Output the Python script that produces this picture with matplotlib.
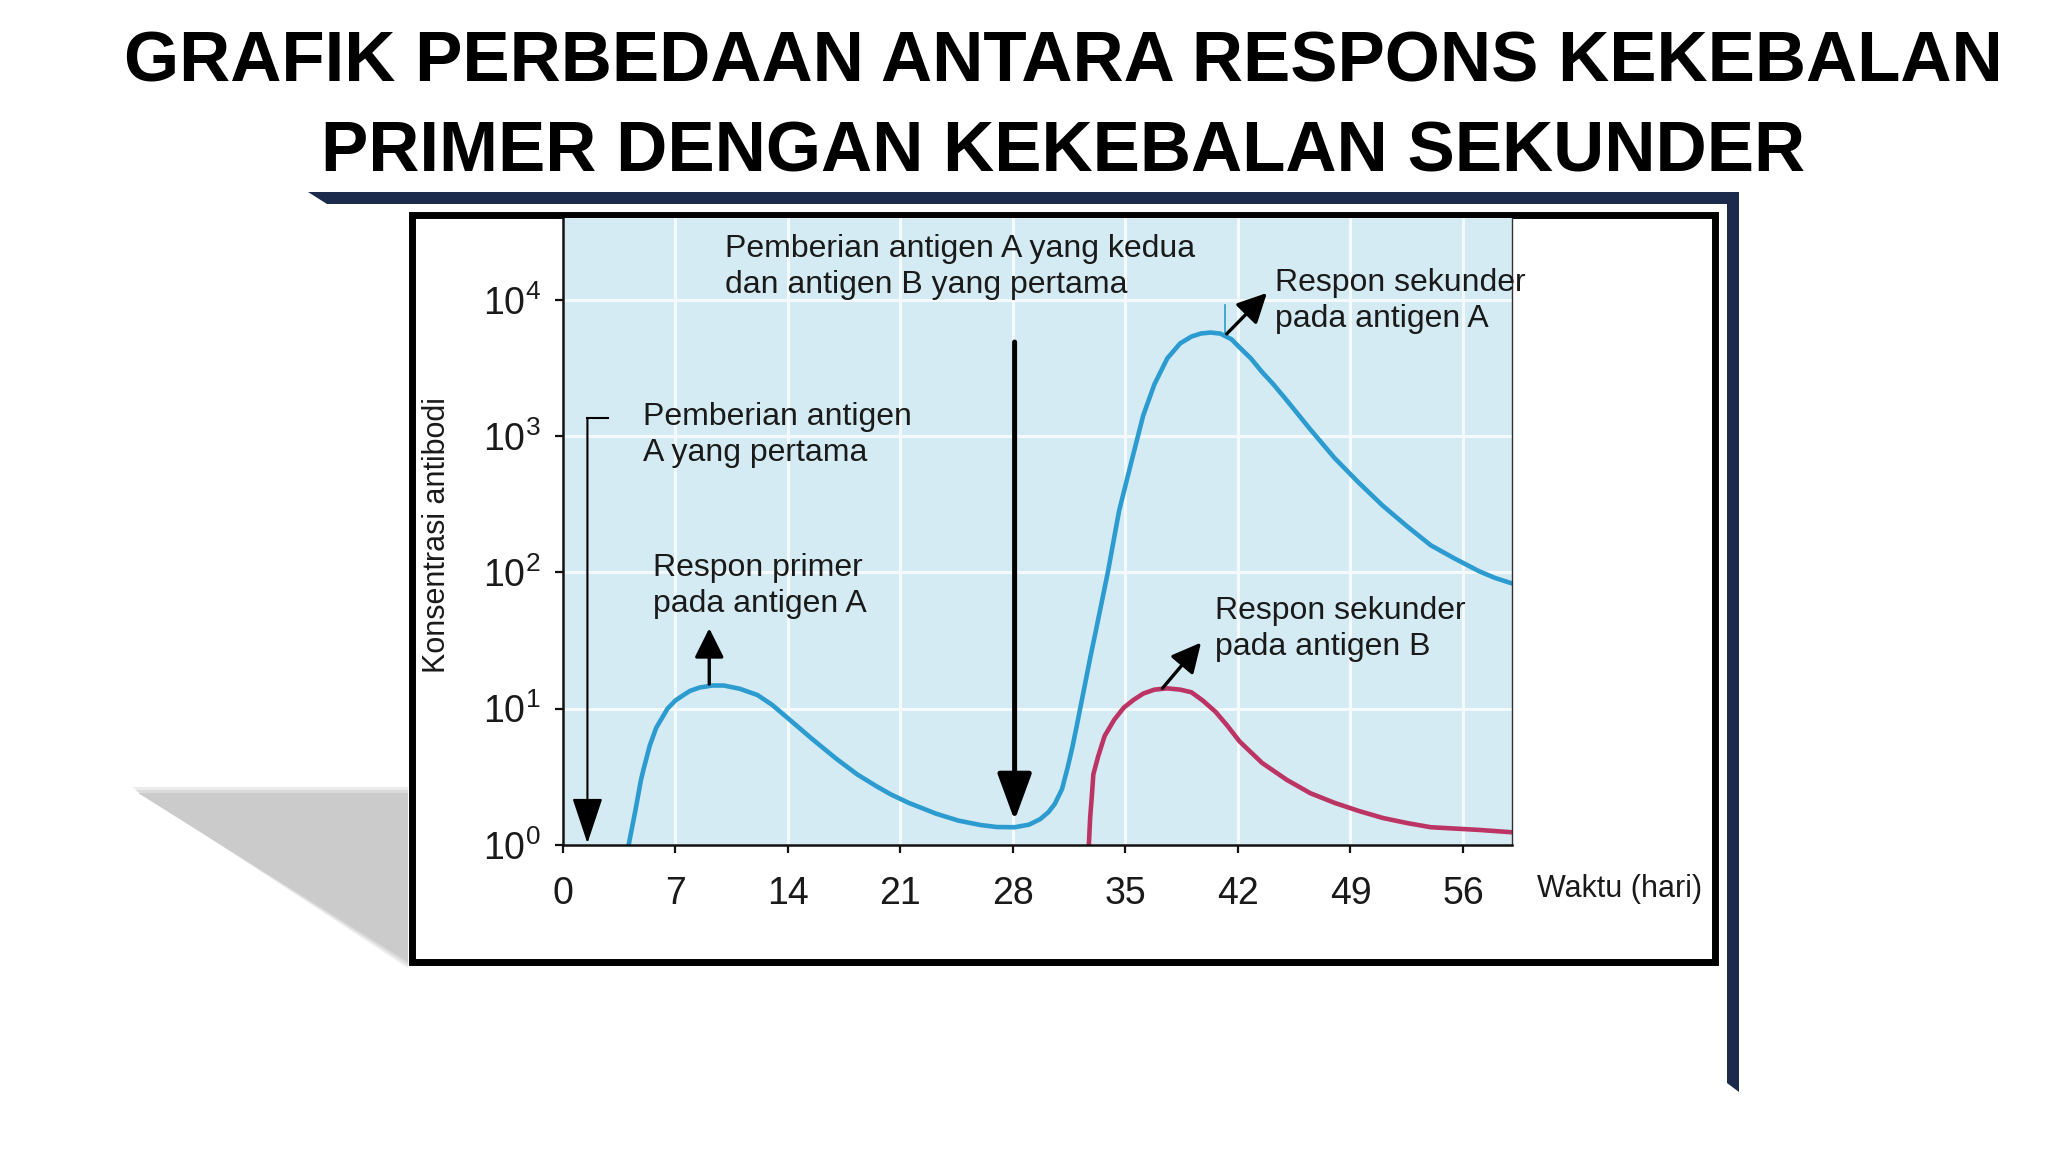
import matplotlib
matplotlib.use("Agg")
import matplotlib.pyplot as plt
from matplotlib.patches import Polygon, Rectangle
from matplotlib.ticker import FixedLocator, NullLocator

W, H = 2048, 1152

# antibody concentration (days, concentration)
days_a = [4.0, 4.5, 4.85, 5.0, 5.4, 5.8, 6.2, 6.5, 7.0, 7.5, 7.9, 8.5, 9.3, 10.0,
          11.0, 12.1, 13.0, 14.0, 14.9, 15.5, 17.0, 18.3, 19.5, 20.4, 21.5, 23.2,
          24.6, 26.0, 27.0, 28.1, 29.0, 29.7, 30.2, 30.6, 31.05, 31.4, 31.7, 31.96,
          32.2, 32.5, 32.8, 33.15, 33.9, 34.6, 35.3, 36.1, 36.8, 37.6, 38.4, 39.1,
          39.7, 40.3, 40.9, 41.6, 42.1, 42.8, 43.5, 44.2, 45.05, 46.5, 48.0, 49.5,
          51.0, 52.5, 54.0, 55.5, 57.0, 58.0, 59.05]
conc_a = [0.89, 1.78, 3.0, 3.55, 5.37, 7.24, 8.71, 10.0, 11.5, 12.6, 13.5, 14.3, 14.8, 14.8,
          14.0, 12.6, 10.7, 8.5, 6.9, 6.0, 4.3, 3.3, 2.7, 2.35, 2.04, 1.7,
          1.51, 1.40, 1.355, 1.35, 1.41, 1.55, 1.74, 2.0, 2.57, 3.7, 5.25, 7.4,
          10.3, 15.5, 23.5, 37, 100, 282, 603, 1413, 2400, 3715, 4786, 5370,
          5660, 5750, 5650, 5130, 4470, 3715, 2950, 2400, 1820, 1120, 692, 457,
          309, 219, 158, 126, 102, 91, 83]

days_b = [32.7, 32.8, 32.9, 33.0, 33.3, 33.7, 34.3, 34.9, 35.5, 36.1, 36.8, 37.6,
          38.4, 39.1, 39.8, 40.6, 41.3, 42.1, 43.5, 45.05, 46.5, 48.0, 49.5, 51.0,
          52.5, 54.0, 55.5, 57.0, 59.05]
conc_b = [0.89, 1.58, 2.24, 3.3, 4.47, 6.3, 8.3, 10.2, 11.6, 12.9, 13.8, 14.1,
          13.8, 13.2, 11.5, 9.5, 7.6, 5.75, 4.0, 3.0, 2.4, 2.04, 1.78, 1.58,
          1.45, 1.35, 1.32, 1.29, 1.24]

x_ticks = [0, 7, 14, 21, 28, 35, 42, 49, 56]
y_ticks = [1, 10, 100, 1000, 10000]

title_lines = ["GRAFIK PERBEDAAN ANTARA RESPONS KEKEBALAN",
               "PRIMER DENGAN KEKEBALAN SEKUNDER"]

plt.rcParams["font.family"] = ["Liberation Sans", "DejaVu Sans"]


def fx(x):
    return x / W


def fy(y):
    return 1 - y / H


fig = plt.figure(figsize=(W / 100, H / 100), dpi=100)
fig.patch.set_facecolor("white")

# slide decoration (kept below the axes)
navy = "#1c2b4b"
deco = [(308, 192), (1739, 192), (1739, 1092), (1727, 1083), (1727, 204), (327, 204)]
fig.patches.append(Polygon([(fx(a), fy(b)) for a, b in deco], closed=True,
                           transform=fig.transFigure, facecolor=navy,
                           edgecolor="none", zorder=-3))
for grow, col in [(6, "#ececec"), (3, "#dadada"), (0, "#cbcbcb")]:
    shadow = [(138 - grow, 793 - grow), (408, 793 - grow), (408, 962 + grow)]
    fig.patches.append(Polygon([(fx(a), fy(b)) for a, b in shadow], closed=True,
                               transform=fig.transFigure, facecolor=col,
                               edgecolor="none", zorder=-3))
fig.patches.append(Rectangle((fx(411.5), fy(962)), fx(1715 - 411.5), (962 - 215) / H,
                             transform=fig.transFigure, facecolor="white",
                             edgecolor="black", lw=5, zorder=-2))

for line, base in zip(title_lines, [81, 172]):
    fig.text(fx(1063), fy(base), line, ha="center", va="baseline", fontsize=51,
             fontweight="bold", color="black")

ax = fig.add_axes([fx(563), fy(845), (1512 - 563) / W, (845 - 218) / H])
ax.set_facecolor("#d5ebf3")
ax.set_yscale("log")
ax.set_xlim(0, 59.05)
ax.set_ylim(1, 10 ** 4.6)
ax.xaxis.set_major_locator(FixedLocator(x_ticks))
ax.yaxis.set_major_locator(FixedLocator(y_ticks))
ax.yaxis.set_minor_locator(NullLocator())
ax.grid(True, color="#f4fafc", lw=2.2)
ax.set_axisbelow(True)
for s in ["left", "bottom"]:
    ax.spines[s].set_linewidth(1.8)
    ax.spines[s].set_color("#111111")
ax.spines["top"].set_visible(False)
ax.spines["right"].set_linewidth(1.0)
ax.spines["right"].set_color("#333333")
ax.tick_params(axis="both", direction="out", length=6, width=1.6, color="#111111",
               labelsize=27, labelcolor="#1a1a1a")
ax.tick_params(axis="x", pad=16)
ax.tick_params(axis="y", pad=10)

ax.plot(days_a, conc_a, color="#2b9bd0", lw=3.3, solid_joinstyle="round",
        solid_capstyle="round")
ax.plot(days_b, conc_b, color="#bb3463", lw=3.3, solid_joinstyle="round",
        solid_capstyle="round")

ax.set_xlabel("Waktu (hari)", fontsize=22, color="#1a1a1a", ha="left", va="center")
ax.xaxis.set_label_coords(1.0263, -0.0702)
ax.set_ylabel("Konsentrasi antibodi", fontsize=22, color="#1a1a1a", va="center")
ax.yaxis.set_label_coords(-0.1328, 0.494)


def arrow(tail, tip, lw, hl, hw, ms):
    ax.annotate("", xy=tip, xytext=tail,
                arrowprops=dict(arrowstyle="-|>,head_length=%g,head_width=%g" % (hl, hw),
                                color="black", lw=lw, mutation_scale=ms,
                                shrinkA=0, shrinkB=0))


ax.plot([1.52, 2.78], [10 ** 3.13, 10 ** 3.13], color="black", lw=1.5)
arrow((1.52, 10 ** 3.13), (1.52, 1.03), 1.5, 0.6, 0.2, 48)
arrow((28.1, 10 ** 3.69), (28.1, 10 ** 0.18), 3.6, 0.6, 0.22, 48)
arrow((9.1, 10 ** 1.18), (9.1, 10 ** 1.59), 2.4, 0.5, 0.25, 36)
arrow((41.3, 10 ** 3.75), (43.8, 10 ** 4.05), 2.4, 0.5, 0.25, 36)
arrow((37.3, 10 ** 1.15), (39.7, 10 ** 1.485), 2.4, 0.5, 0.25, 36)
ax.plot([41.2, 41.2], [10 ** 3.75, 10 ** 3.96], color="#2b9bd0", lw=1.2)

notes = [
    (10.1, 10 ** 4.24, "Pemberian antigen A yang kedua\ndan antigen B yang pertama"),
    (44.3, 10 ** 3.99, "Respon sekunder\npada antigen A"),
    (4.95, 10 ** 3.01, "Pemberian antigen\nA yang pertama"),
    (5.6, 10 ** 1.90, "Respon primer\npada antigen A"),
    (40.6, 10 ** 1.585, "Respon sekunder\npada antigen B"),
]
for x, y, t in notes:
    ax.text(x, y, t, ha="left", va="center", fontsize=23, color="#1a1a1a",
            linespacing=1.25)

fig.savefig("out.png", dpi=100)
